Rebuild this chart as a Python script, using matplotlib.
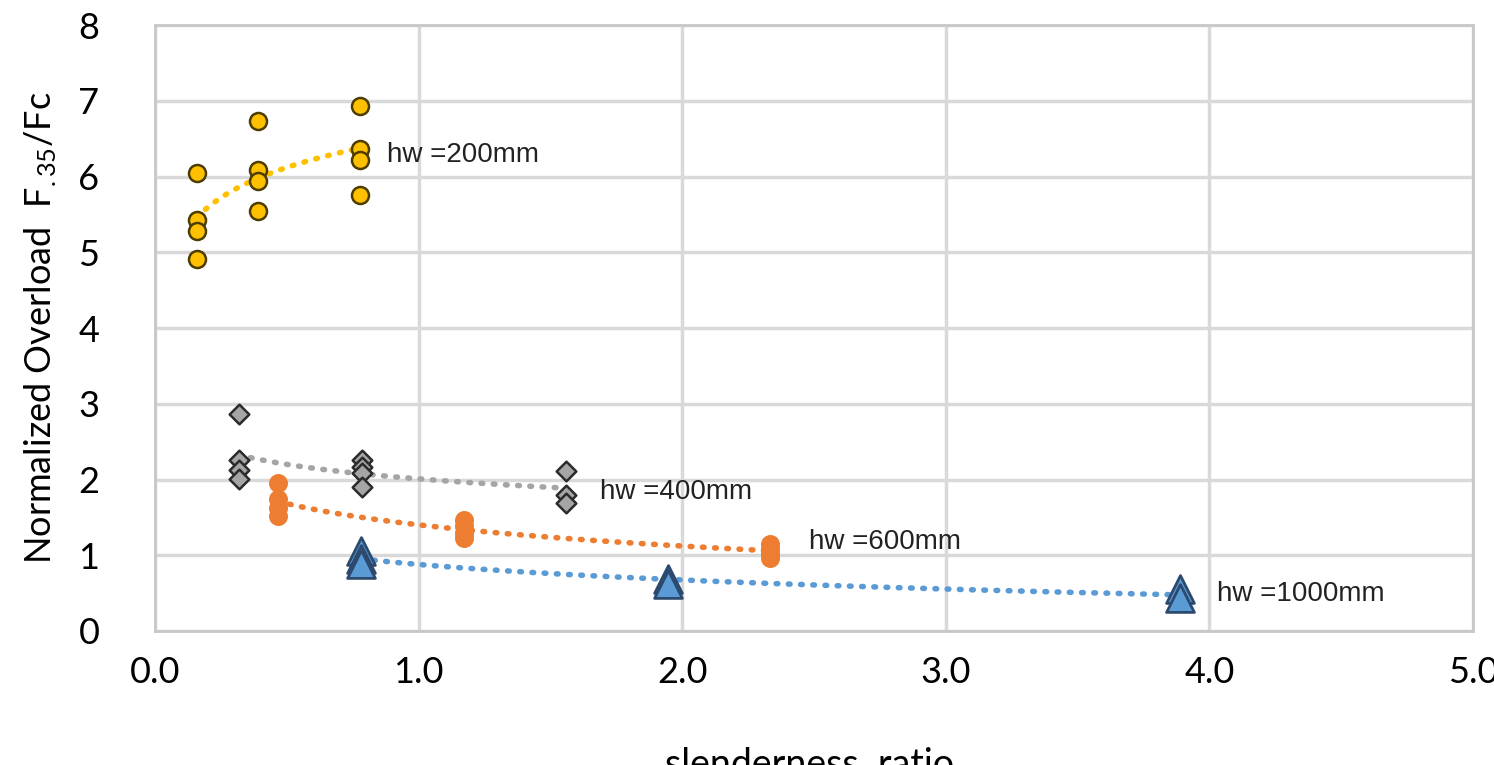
import numpy as np
import matplotlib.pyplot as plt

plt.rcParams['font.family'] = ['Liberation Sans', 'DejaVu Sans']
plt.rcParams['mathtext.fontset'] = 'custom'
plt.rcParams['mathtext.rm'] = 'Lato'
plt.rcParams['mathtext.it'] = 'Lato'

# hw = 200 mm (yellow circles)
x200 = [0.158] * 4 + [0.389] * 4 + [0.777] * 4
y200 = [6.04, 5.42, 5.28, 4.91, 6.73, 6.08, 5.94, 5.55, 6.93, 6.36, 6.22, 5.76]
# hw = 400 mm (grey diamonds)
x400 = [0.317] * 4 + [0.786] * 4 + [1.559] * 3
y400 = [2.87, 2.26, 2.12, 2.01, 2.26, 2.16, 2.08, 1.90, 2.11, 1.80, 1.69]
# hw = 600 mm (orange circles)
x600 = [0.465] * 4 + [1.172] * 4 + [2.332] * 4
y600 = [1.95, 1.74, 1.62, 1.52, 1.47, 1.38, 1.30, 1.23, 1.15, 1.08, 1.02, 0.97]
# hw = 1000 mm (blue triangles)
x1000 = [0.783] * 3 + [1.946] * 2 + [3.89] * 2
y1000 = [1.05, 0.95, 0.88, 0.68, 0.62, 0.55, 0.44]

labels = ['hw =200mm', 'hw =400mm', 'hw =600mm', 'hw =1000mm']
label_pos = [(0.88, 6.28), (1.69, 1.84), (2.48, 1.18), (4.03, 0.49)]

xticks = [0.0, 1.0, 2.0, 3.0, 4.0, 5.0]
yticks = [0, 1, 2, 3, 4, 5, 6, 7, 8]

fig = plt.figure(figsize=(14.94, 7.65), dpi=100)
ax = fig.add_axes([155 / 1494, 134 / 765, 1318 / 1494, 606 / 765])

series = [
    (x200, y200, '#FFC000', dict(marker='o', s=150, facecolor='#FFC000', edgecolor='#4d3d00', linewidths=1.8)),
    (x400, y400, '#A5A5A5', dict(marker='D', s=100, facecolor='#A5A5A5', edgecolor='#2b2b2b', linewidths=1.8)),
    (x600, y600, '#ED7D31', dict(marker='o', s=160, facecolor='#ED7D31', edgecolor='#ED7D31', linewidths=1)),
    (x1000, y1000, '#5B9BD5', dict(marker='^', s=400, facecolor='#5B9BD5', edgecolor='#2c4a6e', linewidths=2)),
]

for xs, ys, col, kw in series:
    xs = np.array(xs)
    ys = np.array(ys)
    # logarithmic trend line, like Excel
    b, a = np.polyfit(np.log(xs), ys, 1)
    xt = np.linspace(xs.min(), xs.max(), 200)
    ax.plot(xt, a + b * np.log(xt), color=col, linestyle=(0, (0.3, 1.9)),
            linewidth=4, dash_capstyle='round', zorder=2)
    ax.scatter(xs, ys, zorder=3, **kw)

for txt, (tx, ty) in zip(labels, label_pos):
    ax.text(tx, ty, txt, fontsize=20, color='#222222', va='center', ha='left')

ax.set_xlim(0, 5)
ax.set_ylim(0, 8)
ax.set_xticks(xticks)
ax.set_yticks(yticks)
ax.set_xticklabels([f'{t:.1f}' for t in xticks], fontfamily='Lato', fontsize=26)
ax.set_yticklabels([str(t) for t in yticks], fontfamily='Lato', fontsize=26)
ax.tick_params(length=0, pad=18)
ax.tick_params(axis='y', pad=40)
ax.grid(True, color='#d9d9d9', linewidth=2.5)
ax.set_axisbelow(True)
for sp in ax.spines.values():
    sp.set_color('#c8c8c8')
    sp.set_linewidth(2)

ax.set_ylabel('Normalized Overload  F$_{.35}$/Fc', fontfamily='Lato', fontsize=26, labelpad=14)
fig.text(0.542, 0.0, 'slenderness  ratio', fontfamily='Lato', fontsize=27,
         ha='center', va='center')

fig.savefig('out.png', dpi=100)
